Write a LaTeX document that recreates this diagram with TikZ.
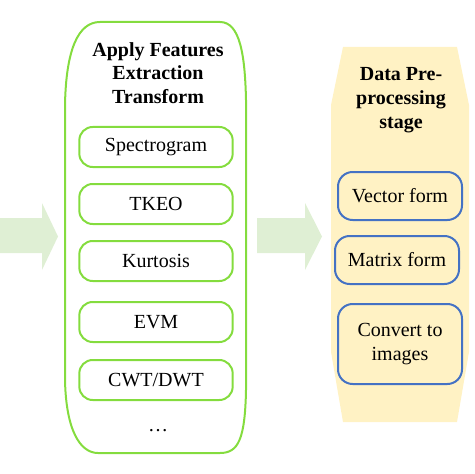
\documentclass[tikz,border=0pt]{standalone}
\usepackage{fontspec}
\setmainfont{Liberation Serif}
\usepackage{tikz}
\definecolor{featgreen}{RGB}{132,220,62}
\definecolor{arrowgreen}{RGB}{223,239,212}
\definecolor{prepyellow}{RGB}{255,242,196}
\definecolor{prepblue}{RGB}{68,114,196}
\tikzset{
        blockarrow/.style={
            fill=arrowgreen, draw=none
        },
    }

\begin{document}
\begin{tikzpicture}[x=0.75pt,y=-0.75pt,
          every node/.style = {font=\fontsize{15}{17.8}\selectfont},
          featbox/.style = {draw=featgreen,line width=1.5pt,rounded corners=10pt,minimum width=115pt,minimum height=30pt,inner sep=0pt},
          prepbox/.style = {draw=prepblue,line width=1.5pt,rounded corners=11pt,minimum width=93pt,minimum height=36pt,inner sep=0pt,align=center}
          ]
 \useasboundingbox (0,0) rectangle (474,474);
          % block arrows
          \fill[blockarrow] (0,218) -- (42,218) -- (42,203) -- (58,236.5) -- (42,270) -- (42,253) -- (0,253) -- cycle;
          \fill[blockarrow] (257,218) -- (305,218) -- (305,203) -- (322,236.5) -- (305,270) -- (305,253) -- (257,253) -- cycle;
          % feature extraction container
 \draw[featgreen,line width=1.5pt] (100,22) -- (220,22) .. controls (240,22) and (245,55) .. (246,100) -- (246,390)
          .. controls (245,440) and (238,453) .. (220,453) -- (98,453) .. controls (80,453) and (66,430) .. (65,380)
          -- (65,105) .. controls (66,50) and (78,22) .. (100,22) -- cycle;
          \node[align=center,font=\fontsize{15}{17.8}\selectfont\bfseries] (@feat) at (158,73) {Apply Features\\Extraction\\Transform};
          \node[featbox] (@spec) at (156,147) {Spectrogram};
          \node[featbox] (@tkeo) at (156,204) {TKEO};
          \node[featbox] (@kurt) at (156,261) {Kurtosis};
          \node[featbox] (@evm) at (156,322) {EVM};
          \node[featbox] (@cwt) at (156,380) {CWT/DWT};
          \node (@dots) at (158,431) {\dots};
          % pre-processing panel
 \fill[prepyellow] (343,47) -- (457,47) -- (469,105) -- (469,352) -- (457,422) -- (343,422) -- (331,352) -- (331,105) -- cycle;
          \node[align=center,font=\fontsize{15}{17.8}\selectfont\bfseries] (@prep) at (401,100) {Data Pre-\\processing\\stage};
          \node[prepbox] (@vec) at (400,196) {Vector form};
          \node[prepbox] (@mat) at (397,260) {Matrix form};
          \node[prepbox,minimum height=60pt] (@img) at (400,344) {Convert to\\images};
        \end{tikzpicture}
\end{document}
